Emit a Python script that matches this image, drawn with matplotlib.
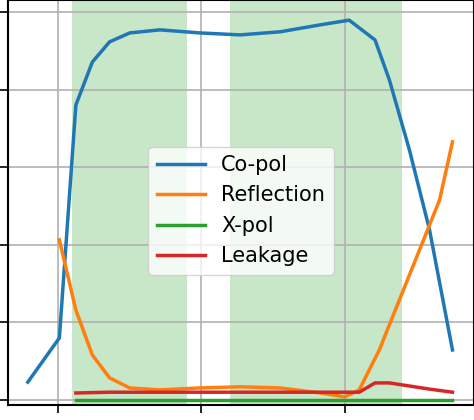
import matplotlib
matplotlib.use("Agg")
import matplotlib.pyplot as plt

x_co = [0.79,1.01,1.125,1.24,1.36,1.50,1.71,1.99,2.27,2.55,2.83,3.03,3.21,3.31,3.45,3.59,3.75]
co = [0.046,0.16,0.761,0.872,0.924,0.947,0.955,0.947,0.942,0.95,0.968,0.98,0.929,0.826,0.645,0.439,0.129]
x_r = [1.01,1.125,1.24,1.36,1.50,1.71,1.99,2.27,2.55,2.83,3.0,3.10,3.24,3.38,3.52,3.66,3.75]
refl = [0.413,0.232,0.116,0.057,0.031,0.026,0.031,0.034,0.031,0.018,0.008,0.026,0.129,0.258,0.387,0.516,0.666]
x_x = [1.125,3.75]
xpol = [0.0,0.0]
x_l = [1.125,1.36,1.71,1.99,2.27,2.55,2.83,3.10,3.21,3.31,3.45,3.59,3.75]
leak = [0.018,0.02,0.02,0.02,0.02,0.02,0.02,0.02,0.044,0.044,0.036,0.028,0.02]
bands = [(1.1, 1.9), (2.2, 3.4)]

fig = plt.figure(figsize=(4.74, 4.20), dpi=100)
ax = fig.add_axes([8/474, 15/420, 466/474, 405/420])
for a, b in bands:
    ax.axvspan(a, b, color='#c8e6c8', lw=0)
ax.plot(x_co, co, color='#1f77b4', lw=2.5, label='Co-pol')
ax.plot(x_r, refl, color='#ff7f0e', lw=2.5, label='Reflection')
ax.plot(x_x, xpol, color='#2ca02c', lw=2.5, label='X-pol')
ax.plot(x_l, leak, color='#d62728', lw=2.5, label='Leakage')
ax.set_xlim(0.652, 3.90)
ax.set_ylim(-0.013, 1.032)
ax.set_xticks([1, 2, 3])
ax.set_yticks([0, 0.2, 0.4, 0.6, 0.8, 1.0])
ax.set_xticklabels([]); ax.set_yticklabels([])
ax.tick_params(length=6, width=1.2)
ax.grid(True, color='#b0b0b0', lw=1.2)
for s in ax.spines.values():
    s.set_linewidth(1.5)
ax.legend(loc='center', bbox_to_anchor=((241-8)/466, 0.48), fontsize=15,
          handlelength=2.3, framealpha=0.8)
fig.savefig('out.png', dpi=100)
